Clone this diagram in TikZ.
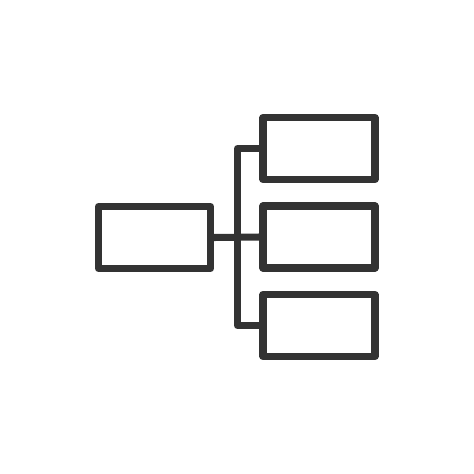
\documentclass[tikz,border=0pt]{standalone}
\usepackage{tikz}
\usetikzlibrary{positioning}

\definecolor{ink}{HTML}{333333}

\tikzset{
  box/.style={draw=ink, line width=4pt, line join=round, inner sep=0pt,
    minimum width=2.24cm, minimum height=1.24cm},
  link/.style={draw=ink, line width=4pt, line join=round}
}

\begin{document}
\begin{tikzpicture}[x=0.02cm, y=-0.02cm]
\useasboundingbox (0,0) rectangle (474,474);
\node[box] (root) at (154.5,237.5){};
\node[box] (mid) at (319,237){};
\node[box, above=1.77cm of mid.center, anchor=center] (top){};
\node[box, below=1.77cm of mid.center, anchor=center] (bot){};
\coordinate (spine) at (237.5,237);
\draw[link] (root.east) -- (mid.west);
\draw[link] (top.west) -| (spine) |- (bot.west);
\end{tikzpicture}
\end{document}
